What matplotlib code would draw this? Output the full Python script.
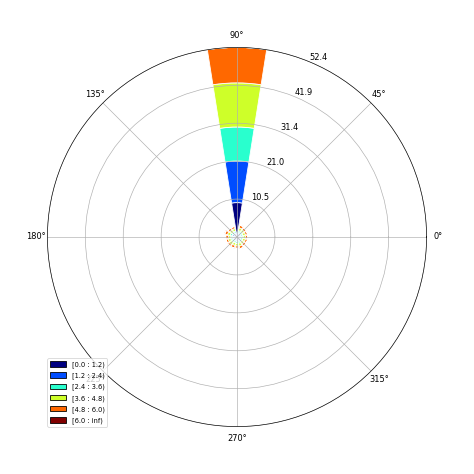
import numpy as np
import matplotlib
matplotlib.use("Agg")
import matplotlib.pyplot as plt
from matplotlib.patches import Patch

# Direction sectors (degrees), 16 sectors
directions = [0, 22.5, 45, 67.5, 90, 112.5, 135, 157.5,
              180, 202.5, 225, 247.5, 270, 292.5, 315, 337.5]

bin_labels = ["[0.0 : 1.2)", "[1.2 : 2.4)", "[2.4 : 3.6)",
              "[3.6 : 4.8)", "[4.8 : 6.0)", "[6.0 : inf)"]

# Frequency (%) per speed bin per direction sector
bin_0_12 = [0.5, 0.5, 0.6, 0.5, 9.5, 0.5, 0.5, 0.6, 0.5, 0.6, 0.5, 0.5, 0.6, 0.5, 0.5, 0.5]
bin_12_24 = [0.6, 0.6, 0.6, 0.7, 11.5, 0.6, 0.6, 0.7, 0.6, 0.6, 0.7, 0.6, 0.6, 0.7, 0.6, 0.6]
bin_24_36 = [0.6, 0.6, 0.6, 0.6, 9.4, 0.6, 0.6, 0.6, 0.6, 0.6, 0.6, 0.6, 0.6, 0.6, 0.6, 0.6]
bin_36_48 = [0.7, 0.7, 0.7, 0.8, 12.2, 0.7, 0.7, 0.8, 0.7, 0.7, 0.8, 0.7, 0.7, 0.8, 0.7, 0.7]
bin_48_60 = [0.6, 0.6, 0.6, 0.7, 9.8, 0.6, 0.6, 0.7, 0.7, 0.6, 0.6, 0.7, 0.6, 0.7, 0.6, 0.6]
bin_60_inf = [0.0, 0.0, 0.0, 0.1, 0.0, 0.0, 0.0, 0.2, 0.1, 0.0, 0.0, 0.1, 0.0, 0.1, 0.0, 0.0]

table = np.array([bin_0_12, bin_12_24, bin_24_36, bin_36_48, bin_48_60, bin_60_inf])

fig = plt.figure(figsize=(8, 8), dpi=59.25)
ax = fig.add_axes([0.1, 0.1, 0.8, 0.8], projection="polar")

nsector = len(directions)
dtheta = 2 * np.pi / nsector
opening = dtheta * 0.8
theta = np.radians(directions)
colors = plt.get_cmap("jet")(np.linspace(0, 1, len(bin_labels)))

offset = np.zeros(nsector)
for i, vals in enumerate(table):
    ax.bar(theta, vals, width=opening, bottom=offset, color=colors[i],
           edgecolor="white", linewidth=1, align="center")
    offset = offset + vals

rmax = offset.max()
ax.set_rmax(rmax)
ax.set_rmin(0)
radii = np.linspace(0, rmax, 6)[1:]
ax.set_rgrids(radii, labels=["%.1f" % r for r in radii], angle=67.5)
ax.set_thetagrids(np.arange(0, 360, 45), labels=["%d°" % a for a in range(0, 360, 45)])

handles = [Patch(facecolor=c, edgecolor="black", linewidth=1) for c in colors]
ax.legend(handles, bin_labels, loc="lower left", fontsize=8, handlelength=2.5,
          handleheight=0.9, labelspacing=0.68, borderaxespad=0.0)

fig.savefig("out.png", dpi=59.25)
